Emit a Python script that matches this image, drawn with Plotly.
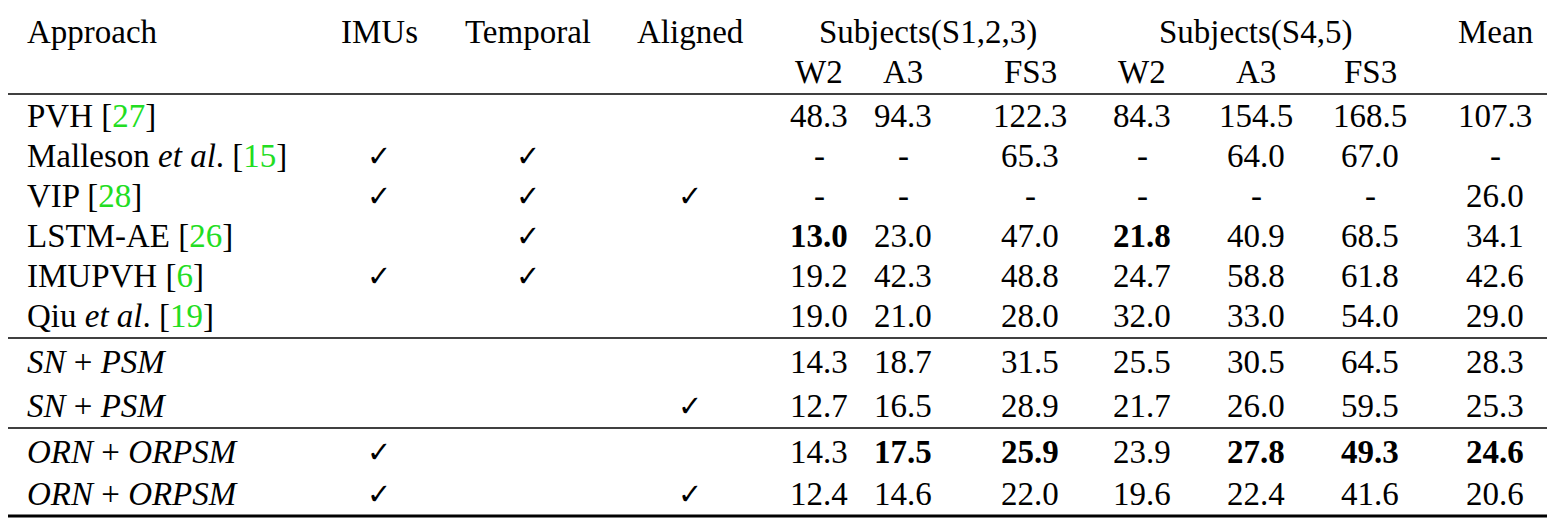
import plotly.graph_objects as go

G = "#22dd22"
approaches = [
    f"PVH [<span style='color:{G}'>27</span>]",
    f"Malleson <i>et al</i>. [<span style='color:{G}'>15</span>]",
    f"VIP [<span style='color:{G}'>28</span>]",
    f"LSTM-AE [<span style='color:{G}'>26</span>]",
    f"IMUPVH [<span style='color:{G}'>6</span>]",
    f"Qiu <i>et al</i>. [<span style='color:{G}'>19</span>]",
    "<i>SN</i> + <i>PSM</i>",
    "<i>SN</i> + <i>PSM</i>",
    "<i>ORN</i> + <i>ORPSM</i>",
    "<i>ORN</i> + <i>ORPSM</i>",
]
imus = [0, 1, 1, 0, 1, 0, 0, 0, 1, 1]
temporal = [0, 1, 1, 1, 1, 0, 0, 0, 0, 0]
aligned = [0, 0, 1, 0, 0, 0, 0, 1, 0, 1]
values = [
    ["48.3", "94.3", "122.3", "84.3", "154.5", "168.5", "107.3"],
    ["-", "-", "65.3", "-", "64.0", "67.0", "-"],
    ["-", "-", "-", "-", "-", "-", "26.0"],
    ["13.0", "23.0", "47.0", "21.8", "40.9", "68.5", "34.1"],
    ["19.2", "42.3", "48.8", "24.7", "58.8", "61.8", "42.6"],
    ["19.0", "21.0", "28.0", "32.0", "33.0", "54.0", "29.0"],
    ["14.3", "18.7", "31.5", "25.5", "30.5", "64.5", "28.3"],
    ["12.7", "16.5", "28.9", "21.7", "26.0", "59.5", "25.3"],
    ["14.3", "17.5", "25.9", "23.9", "27.8", "49.3", "24.6"],
    ["12.4", "14.6", "22.0", "19.6", "22.4", "41.6", "20.6"],
]
bold = {(3, 0), (3, 3), (8, 1), (8, 2), (8, 4), (8, 5), (8, 6)}
headers = ["Approach", "IMUs", "Temporal", "Aligned"]
subheaders = ["W2", "A3", "FS3", "W2", "A3", "FS3"]

# layout positions (page pixels)
col_x = [25, 379, 528, 690, 819, 903, 1030, 1142, 1256, 1370, 1495]
row_y = [116, 156, 196, 236, 276, 316, 362, 406, 452, 494]
FONT = dict(family="Liberation Serif, Times New Roman, serif", size=33, color="black")
CHK = dict(family="DejaVu Sans", size=29, color="black")

ann = []
def add(x, y, t, xa="center", f=FONT):
    ann.append(dict(x=x, y=y, text=t, showarrow=False, xanchor=xa, yanchor="middle", font=f))

for i, h in enumerate(headers):
    add(col_x[i], 32, h, "left" if i == 0 else "center")
add(928, 32, "Subjects(S1,2,3)")
add(1255, 32, "Subjects(S4,5)")
add(col_x[10], 32, "Mean")
for j, s in enumerate(subheaders):
    add(col_x[4 + j], 72, s)

for r in range(len(approaches)):
    y = row_y[r]
    add(col_x[0], y, approaches[r], "left")
    for k, flags in enumerate([imus, temporal, aligned]):
        if flags[r]:
            add(col_x[1 + k], y, "✓", f=CHK)
    for j, v in enumerate(values[r]):
        add(col_x[4 + j], y, f"<b>{v}</b>" if (r, j) in bold else v)

shapes = []
for y, w in [(4, 3), (94, 1.5), (338, 1.5), (428, 1.5), (516, 3)]:
    shapes.append(dict(type="line", x0=5, x1=1548, y0=y, y1=y, line=dict(color="black", width=w)))

fig = go.Figure()
fig.update_layout(
    width=1555, height=519, margin=dict(l=0, r=0, t=0, b=0),
    plot_bgcolor="white", paper_bgcolor="white",
    xaxis=dict(range=[8, 1563], visible=False),
    yaxis=dict(range=[527, 8], visible=False),
    annotations=ann, shapes=shapes, showlegend=False,
)
fig.write_html("out.html")
